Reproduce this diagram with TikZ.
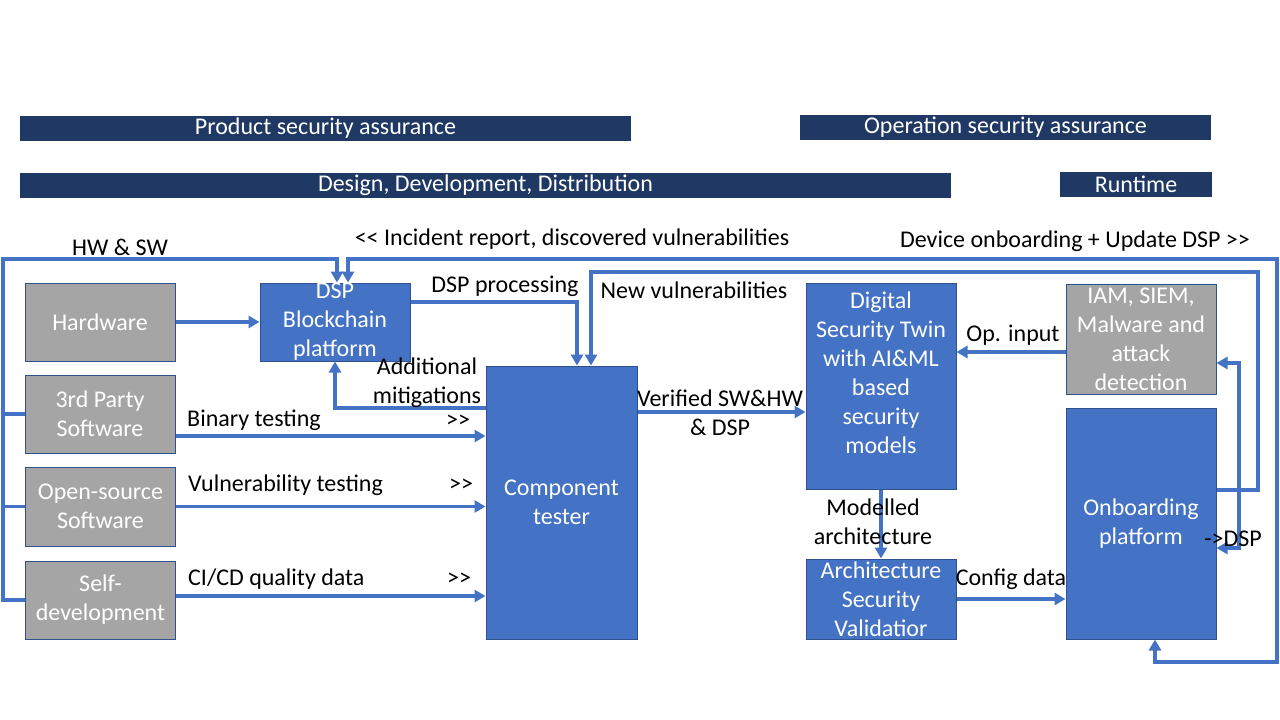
\documentclass[tikz,border=0pt]{standalone}
\usepackage{fontspec}
\setmainfont{Carlito}
\usepackage{xcolor}
\usepackage{tikz}
\usetikzlibrary{arrows.meta, positioning}

\definecolor{navy}{HTML}{1F3864}
\definecolor{boxblue}{HTML}{4472C4}
\definecolor{boxgray}{HTML}{A5A5A5}
\definecolor{edgeblue}{HTML}{2F528F}

\begin{document}
\begin{tikzpicture}[x=1pt, y=-1pt, >={Triangle[length=11pt,width=12pt]},
    txt/.style={font=\fontsize{24}{29}\selectfont, inner sep=0pt},
    bar/.style={txt, fill=navy, text=white, minimum height=25pt},
    box/.style={txt, draw=edgeblue, line width=1pt, text=white, align=center},
    bluebox/.style={box, fill=boxblue},
    graybox/.style={box, fill=boxgray, minimum width=150pt},
    link/.style={draw=boxblue, line width=3.5pt, line join=miter}]
    \useasboundingbox[fill=white] (0,0) rectangle (1280,720);

    % phase bars
    \node[bar, minimum width=611pt] (prodbar) at (325.5,128.5) {Product security assurance};
    \node[bar, minimum width=411pt] (opbar) at (1005.5,127.5) {Operation security assurance};
    \node[bar, minimum width=931pt] (devbar) at (485.5,185.5) {Design, Development, Distribution};
    \node[bar, minimum width=152pt] (runbar) at (1136,184.5) {Runtime};

    % sources
    \node[graybox, minimum height=78pt] (hardware) at (100,322) {Hardware};
    \node[graybox, minimum height=78pt] (thirdparty) at (100,414) {3rd Party\\Software};
    \node[graybox, minimum height=79pt] (opensource) at (100.5,506.5) {Open-source\\Software};
    \node[graybox, minimum height=78pt] (selfdev) at (100.5,600) {Self-\\development};

    % platforms
    \node[bluebox, minimum width=150pt, minimum height=78pt] (dsp) at (335,322) {DSP\\Blockchain\\platform};
    \node[bluebox, minimum width=151pt, minimum height=273pt] (tester) at (561.5,502.5) {Component\\tester};
    \node[bluebox, minimum width=150pt, minimum height=206pt] (twin) at (881,386) {};
    \node[txt, text=white, align=center] (twintext) at (881,373) {Digital\\Security Twin\\with AI\&ML\\based\\security\\models};
    \node[bluebox, minimum width=150pt, minimum height=80pt] (arch) at (881,599) {Architecture\\Security\\Validatior};
    \node[graybox, minimum height=110pt] (iam) at (1141,339) {IAM, SIEM,\\Malware and\\attack\\detection};
    \node[bluebox, minimum width=150pt, minimum height=231pt] (onboard) at (1141,523.5) {Onboarding\\platform};

    % corners of the long connectors
    \coordinate (busTop) at (3,259);
    \coordinate (outerNE) at (1277,259);
    \coordinate (outerSE) at (1277,662);
    \coordinate (innerNE) at (1258,272);
    \coordinate (dspTurn) at (1239,548);

    % connectors
    \draw[link,->] (selfdev.west) -| (busTop) -| ([xshift=2pt]dsp.north);
    \draw[link] (thirdparty.west) -- (thirdparty.west -| busTop);
    \draw[link] (opensource.west) -- (opensource.west -| busTop);
    \draw[link,<->] ([xshift=13pt]dsp.north) |- (outerNE) -- (outerSE) -| ([xshift=14pt]onboard.south);
    \draw[link,->] ([yshift=33.5pt]onboard.east) -| (innerNE) -| ([xshift=29.5pt]tester.north);
    \draw[link,<->] ([yshift=-24pt]iam.east) -| (dspTurn) -- (dspTurn -| onboard.east);
    \draw[link,->] (hardware.east) -- (dsp.west);
    \draw[link,->] ([yshift=20pt]dsp.east) -| ([xshift=15.5pt]tester.north);
    \draw[link,->] ([yshift=94.5pt]tester.west) -| (dsp.south);
    \draw[link,->] ([yshift=-22pt]thirdparty.east) -- ([yshift=-22pt]thirdparty.east -| tester.west);
    \draw[link,->] (opensource.east) -- (opensource.east -| tester.west);
    \draw[link,->] ([yshift=4pt]selfdev.east) -- ([yshift=4pt]selfdev.east -| tester.west);
    \draw[link,->] ([yshift=90.5pt]tester.east) -- ([yshift=90.5pt]tester.east -| twin.west);
    \draw[link,->] ([yshift=-13pt]iam.west) -- ([yshift=-13pt]iam.west -| twin.east);
    \draw[link,->] (twin.south) -- (arch.north);
    \draw[link,->] (arch.east) -- (arch.east -| onboard.west);

    % labels
    \node[txt] (hwsw) at (120,247) {HW \& SW};
    \node[txt] (incident) at (572,239) {<{}< Incident report, discovered vulnerabilities};
    \node[txt] (update) at (1075,241) {Device onboarding + Update DSP >{}>};
    \node[txt] (dspproc) at (505,286) {DSP processing};
    \node[txt] (newvul) at (694,290) {New vulnerabilities};
    \node[txt, align=center] (mitig) at (427,383) {Additional\\mitigations};
    \node[txt, anchor=west] (binary) at (187,420) {Binary testing};
    \node[txt] (binarygo) at (458,421) {>{}>};
    \node[txt, anchor=west] (vulntest) at (188,485) {Vulnerability testing};
    \node[txt] (vulngo) at (461,485) {>{}>};
    \node[txt, anchor=west] (cicd) at (188,579) {CI/CD quality data};
    \node[txt] (cicdgo) at (459,579) {>{}>};
    \node[txt, align=center] (verified) at (720,412.5) {Verified SW\&HW\\\& DSP};
    \node[txt] (opinput) at (1013,335) {Op. input};
    \node[txt, align=center] (modelled) at (873,522) {Modelled\\architecture};
    \node[txt] (config) at (1011,579) {Config data};
    \node[txt] (todsp) at (1233,539) {->DSP};
\end{tikzpicture}
\end{document}
